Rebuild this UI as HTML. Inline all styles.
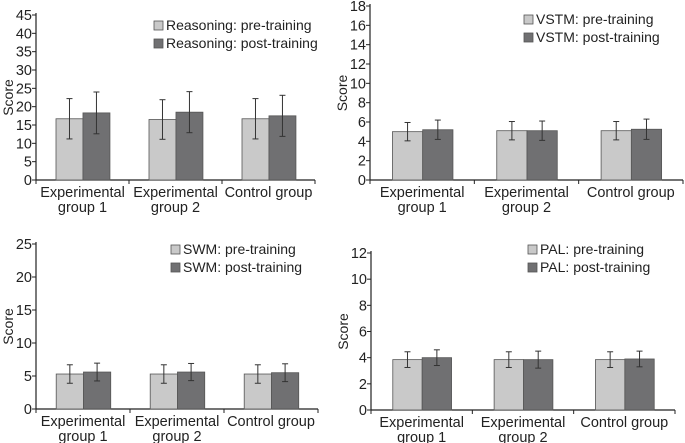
<!DOCTYPE html>
<html><head><meta charset="utf-8"><style>
body{margin:0;background:#fff;width:685px;height:443px;overflow:hidden}
svg{display:block;font-family:"Liberation Sans",Arial,sans-serif}
</style></head><body>
<svg id="c" width="685" height="443"></svg>
<script>
const categories=[["Experimental","group 1"],["Experimental","group 2"],["Control group"]];
const reasoningPre=[16.7,16.5,16.7], reasoningPost=[18.3,18.5,17.5];
const reasoningPreErr=[5.5,5.4,5.5], reasoningPostErr=[5.7,5.6,5.6];
const reasoningTicks=[0,5,10,15,20,25,30,35,40,45];
const vstmPre=[5.0,5.1,5.1], vstmPost=[5.2,5.1,5.25];
const vstmPreErr=[0.95,0.95,0.95], vstmPostErr=[1.0,1.0,1.05];
const vstmTicks=[0,2,4,6,8,10,12,14,16,18];
const swmPre=[5.3,5.3,5.3], swmPost=[5.6,5.6,5.5];
const swmPreErr=[1.4,1.4,1.4], swmPostErr=[1.35,1.3,1.35];
const swmTicks=[0,5,10,15,20,25];
const palPre=[3.85,3.85,3.85], palPost=[4.0,3.85,3.9];
const palPreErr=[0.6,0.6,0.6], palPostErr=[0.6,0.65,0.6];
const palTicks=[0,2,4,6,8,10,12];

const svg=document.getElementById('c');
const NS='http://www.w3.org/2000/svg';
function mk(t,a,p){const e=document.createElementNS(NS,t);for(const k in a)e.setAttribute(k,a[k]);(p||svg).appendChild(e);return e;}

function panel(name,cfg){
  const g=mk('g',{});
  
  
  const max=cfg.ticks[cfg.ticks.length-1];
  const y=v=>cfg.y0-(v/max)*(cfg.y0-cfg.yTop);
  const gw=(cfg.x1-cfg.x0)/3;
  const ya=mk('line',{x1:cfg.x0,y1:cfg.yTop-2,x2:cfg.x0,y2:cfg.y0,stroke:'#222','stroke-width':1.2},g);
  
  
  const xa=mk('line',{x1:cfg.x0,y1:cfg.y0,x2:cfg.x1,y2:cfg.y0,stroke:'#222','stroke-width':1.2},g);
  
  
  cfg.ticks.forEach(t=>{
    mk('line',{x1:cfg.x0-4,y1:y(t),x2:cfg.x0,y2:y(t),stroke:'#222'},g);
    const tx=mk('text',{x:cfg.x0-4,y:y(t)+5,'text-anchor':'end','font-size':14.5,fill:'#222'},g);
    tx.textContent=t;
    
    
  });
  const yl=mk('text',{transform:`translate(${cfg.x0-23},${(cfg.y0+cfg.yTop)/2}) rotate(-90)`,'text-anchor':'middle','font-size':14,fill:'#222'},g);
  yl.textContent='Score';
  
  
  for(let i=0;i<=3;i++) mk('line',{x1:cfg.x0+gw*i,y1:cfg.y0,x2:cfg.x0+gw*i,y2:cfg.y0+4,stroke:'#222'},g);
  categories.forEach((c,i)=>{
    const cx=cfg.x0+gw*(i+0.5);
    c.forEach((ln,j)=>{
      const t=mk('text',{x:cx,y:cfg.y0+17+j*15,'text-anchor':'middle','font-size':14.5,fill:'#222'},g);
      t.textContent=ln;
      
      
    });
    const bw=gw*0.29, bx=cfg.x0+gw*i+gw*0.215;
    [[cfg.pre,cfg.preErr,'#c9c9c9'],[cfg.post,cfg.postErr,'#707072']].forEach((s,k)=>{
      const v=s[0][i], e=s[1][i], x=bx+k*bw;
      const r=mk('rect',{x:x,y:y(v),width:bw,height:cfg.y0-y(v),fill:s[2],stroke:'#555','stroke-width':0.8},g);
      
      
      const mx=x+bw/2;
      mk('line',{x1:mx,y1:y(v+e),x2:mx,y2:y(v-e),stroke:'#333'},g);
      mk('line',{x1:mx-3,y1:y(v+e),x2:mx+3,y2:y(v+e),stroke:'#333'},g);
      mk('line',{x1:mx-3,y1:y(v-e),x2:mx+3,y2:y(v-e),stroke:'#333'},g);
    });
  });
  [['pre-training','#c9c9c9'],['post-training','#707072']].forEach((l,k)=>{
    const ly=cfg.ly+k*18;
    const sq=mk('rect',{x:cfg.lx,y:ly,width:9,height:9,fill:l[1],stroke:'#555','stroke-width':0.8},g);
    
    
    const t=mk('text',{x:cfg.lx+12,y:ly+9,'font-size':14,fill:'#222'},g);
    t.textContent=cfg.label+': '+l[0];
    
    
  });
}
panel('reasoning',{x0:36,x1:315,yTop:15,y0:180,ticks:reasoningTicks,pre:reasoningPre,post:reasoningPost,preErr:reasoningPreErr,postErr:reasoningPostErr,label:'Reasoning',lx:154,ly:21});
panel('vstm',{x0:370,x1:683,yTop:6,y0:180,ticks:vstmTicks,pre:vstmPre,post:vstmPost,preErr:vstmPreErr,postErr:vstmPostErr,label:'VSTM',lx:524,ly:15});
panel('swm',{x0:36,x1:318,yTop:244,y0:409,ticks:swmTicks,pre:swmPre,post:swmPost,preErr:swmPreErr,postErr:swmPostErr,label:'SWM',lx:171,ly:245});
panel('pal',{x0:371,x1:675,yTop:253,y0:410,ticks:palTicks,pre:palPre,post:palPost,preErr:palPreErr,postErr:palPostErr,label:'PAL',lx:528,ly:245});
</script>
</body></html>
